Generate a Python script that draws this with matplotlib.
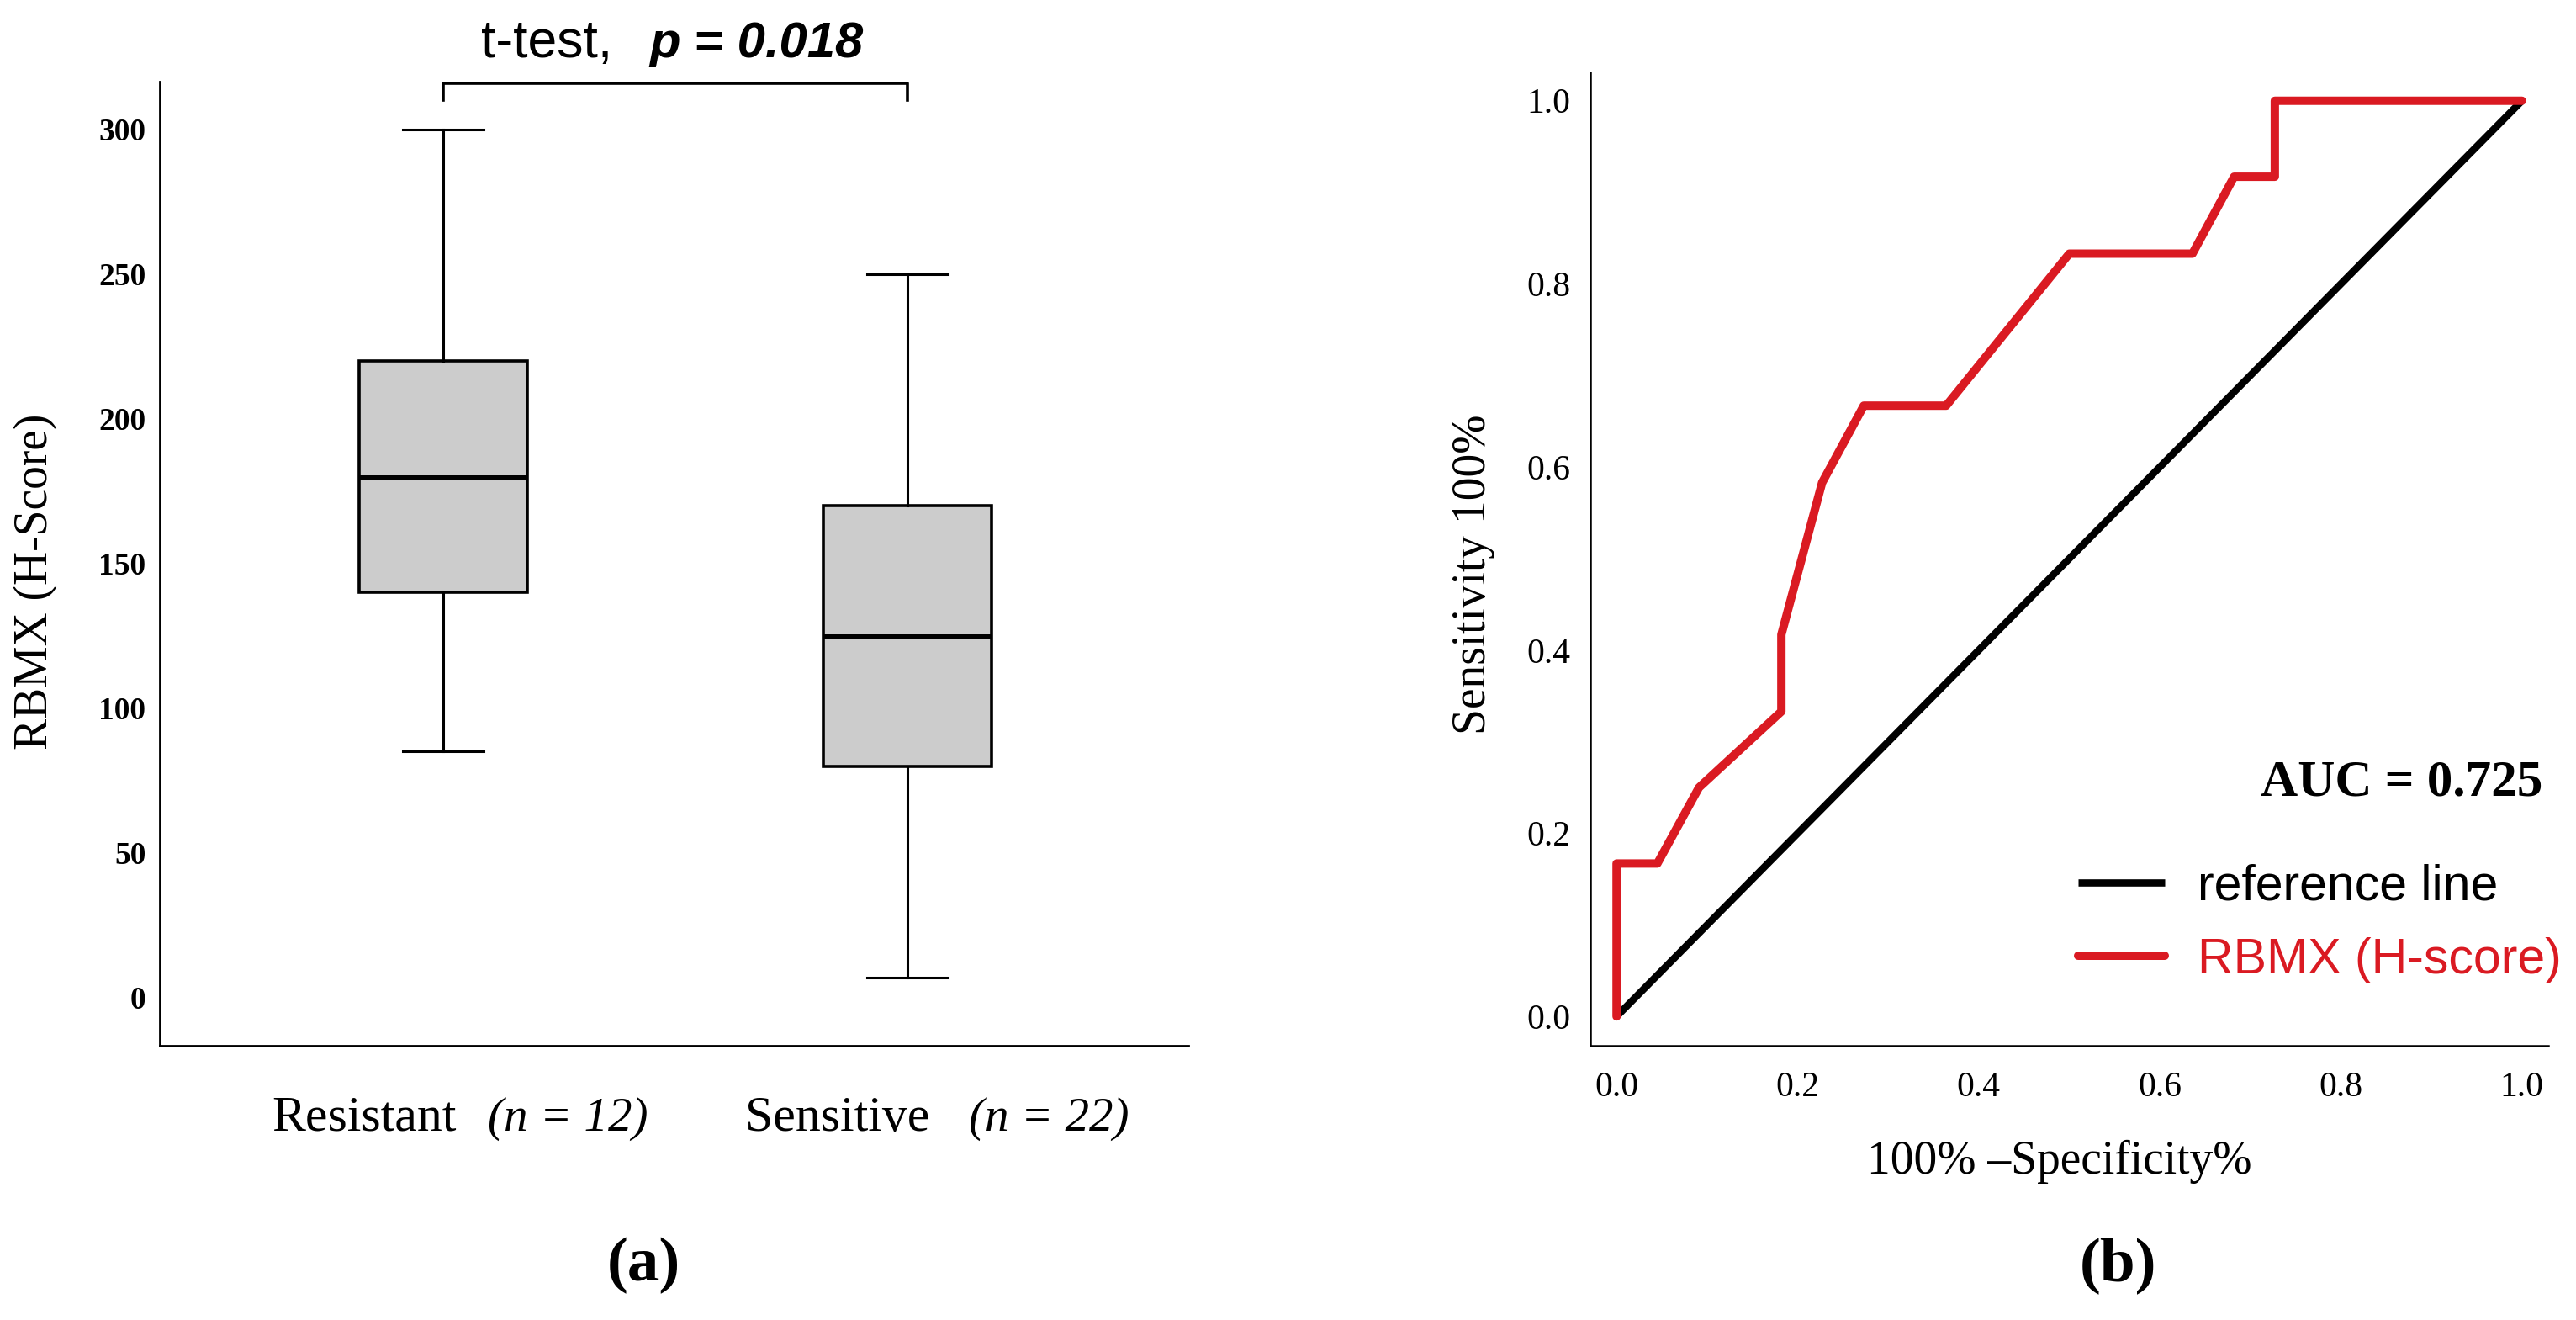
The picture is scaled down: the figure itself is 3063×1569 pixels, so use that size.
import matplotlib
matplotlib.use("Agg")
import matplotlib.pyplot as plt
import matplotlib.transforms as mtransforms

# box plot summary values
groups = ["Resistant", "Sensitive"]
n_per_group = [12, 22]
whislo = [85, 7]
q1 = [140, 80]
med = [180, 125]
q3 = [220, 170]
whishi = [300, 250]
p_text = "p = 0.018"

# ROC curve points
fpr = [0, 0, 0.045, 0.091, 0.182, 0.182, 0.227, 0.273, 0.364, 0.5, 0.636, 0.682, 0.727, 0.727, 1.0]
tpr = [0, 0.167, 0.167, 0.25, 0.333, 0.417, 0.583, 0.667, 0.667, 0.833, 0.833, 0.917, 0.917, 1.0, 1.0]
ref_x = [0, 1]
ref_y = [0, 1]
auc = 0.725

RED = "#DA1A22"
plt.rcParams["font.family"] = ["Liberation Serif", "DejaVu Serif"]

W, H = 3063, 1569
fig = plt.figure(figsize=(W / 100, H / 100), dpi=100)

# ---------- (a) box plot ----------
ax1 = fig.add_axes([190 / W, 1 - 1243 / H, 1223.5 / W, 1146.4 / H])
positions = [1, 2]
stats = []
for i in range(len(groups)):
    stats.append(dict(whislo=whislo[i], q1=q1[i], med=med[i], q3=q3[i], whishi=whishi[i], fliers=[]))
ax1.bxp(stats, positions=positions, widths=0.362, patch_artist=True, showfliers=False,
        boxprops=dict(facecolor="#CCCCCC", edgecolor="black", linewidth=2.6),
        medianprops=dict(color="black", linewidth=3.6),
        whiskerprops=dict(color="black", linewidth=2.2),
        capprops=dict(color="black", linewidth=2.2), capwidths=0.173)
ax1.set_xlim(0.3895, 2.606)
ax1.set_ylim(-16.6, 316.6)
ax1.set_yticks([0, 50, 100, 150, 200, 250, 300])
ax1.set_xticks(positions)
ax1.set_xticklabels(["", ""])
for lab in ax1.get_yticklabels():
    lab.set_fontweight("bold")
    lab.set_fontsize(27)
ax1.tick_params(axis="y", length=0, pad=12)
ax1.tick_params(axis="x", length=0)
for s in ["top", "right"]:
    ax1.spines[s].set_visible(False)
for s in ["left", "bottom"]:
    ax1.spines[s].set_linewidth(2.0)
ax1.set_ylabel("RBMX (H-Score)", fontsize=40)
ax1.yaxis.label.set_verticalalignment("center")
ax1.yaxis.set_label_coords(-0.121, 0.4815)

# group labels: name upright, sample size italic
trans = mtransforms.blended_transform_factory(ax1.transData, fig.transFigure)
name_off = [0.029, 0.047]
n_off = [0.096, 0.132]
for i, g in enumerate(groups):
    ax1.text(positions[i] + name_off[i], 1 - 1330 / H, g, transform=trans,
             fontsize=43, ha="right", va="center")
    ax1.text(positions[i] + n_off[i], 1 - 1330 / H, "(n = %d)" % n_per_group[i], transform=trans,
             fontsize=41, style="italic", ha="left", va="center")

# significance bracket
ax1.plot([1, 1, 2, 2], [310, 316, 316, 310], color="black", lw=2.6, clip_on=False)
fig.text(572 / W, 1 - 68 / H, "t-test,", fontsize=45, family="Liberation Sans", va="baseline")
fig.text(772 / W, 1 - 68 / H, p_text, fontsize=43, family="Liberation Sans",
         style="italic", weight="bold", va="baseline")

# ---------- (b) ROC curve ----------
ax2 = fig.add_axes([1891 / W, 1 - 1243 / H, 1139 / W, 1157 / H])
ax2.plot(ref_x, ref_y, color="black", lw=6.2, solid_capstyle="butt", label="reference line")
ax2.plot(fpr, tpr, color=RED, lw=7.2, solid_capstyle="round", solid_joinstyle="round",
         label="RBMX (H-score)")
ax2.set_xlim(-0.029, 1.029)
ax2.set_ylim(-0.032, 1.031)
ax2.set_xticks([0, 0.2, 0.4, 0.6, 0.8, 1.0])
ax2.set_yticks([0, 0.2, 0.4, 0.6, 0.8, 1.0])
ax2.set_xticklabels(["0.0", "0.2", "0.4", "0.6", "0.8", "1.0"])
ax2.set_yticklabels(["0.0", "0.2", "0.4", "0.6", "0.8", "1.0"])
ax2.tick_params(axis="both", length=0, labelsize=30)
ax2.tick_params(axis="y", pad=17)
ax2.tick_params(axis="x", pad=22)
for s in ["top", "right"]:
    ax2.spines[s].set_visible(False)
for s in ["left", "bottom"]:
    ax2.spines[s].set_linewidth(1.8)
ax2.set_ylabel("Sensitivity 100%", fontsize=40)
ax2.yaxis.label.set_verticalalignment("center")
ax2.yaxis.set_label_coords(-0.122, 0.484)
ax2.set_xlabel("100% \u2013Specificity%", fontsize=40)
ax2.xaxis.label.set_verticalalignment("center")
ax2.xaxis.set_label_coords(0.49, -0.119)

ax2.text(0.994, 0.2705, "AUC = %.3f" % auc, transform=ax2.transAxes, ha="right", va="center",
         fontsize=44, fontweight="bold")
leg = ax2.legend(loc="upper left", bbox_to_anchor=(0.509, 0.187), frameon=False,
                 prop={"family": "Liberation Sans", "size": 42.5}, labelcolor="linecolor",
                 handlelength=1.75, handletextpad=0.66, labelspacing=0.55,
                 borderpad=0, borderaxespad=0)

# panel letters
fig.text(765 / W, 1 - 1504 / H, "(a)", fontsize=54, fontweight="bold", ha="center", va="center")
fig.text(2519 / W, 1 - 1504 / H, "(b)", fontsize=54, fontweight="bold", ha="center", va="center")

fig.savefig("out.png", dpi=100)
